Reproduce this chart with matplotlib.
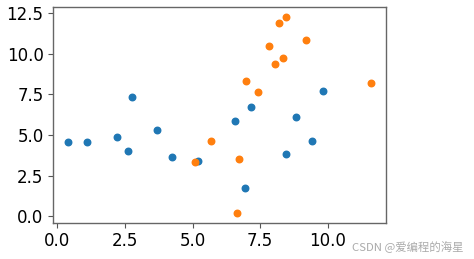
import matplotlib.pyplot as plt

# values
blue_x = [0.41, 1.11, 2.21, 2.62, 2.77, 3.68, 4.24, 5.20, 6.58, 6.95, 7.17, 8.47, 8.83, 9.42, 9.83]
blue_y = [4.57, 4.57, 4.87, 4.04, 7.31, 5.31, 3.67, 3.42, 5.86, 1.72, 6.72, 3.81, 6.10, 4.65, 7.68]

orange_x = [5.09, 5.67, 6.63, 6.73, 6.99, 7.43, 7.83, 8.05, 8.35, 8.20, 8.46, 9.20, 11.59]
orange_y = [3.34, 4.65, 0.20, 3.54, 8.30, 7.62, 10.49, 9.38, 9.75, 11.88, 12.25, 10.84, 8.17]

x_ticks = [0.0, 2.5, 5.0, 7.5, 10.0]
y_ticks = [0.0, 2.5, 5.0, 7.5, 10.0, 12.5]


def main():
    fig = plt.figure(figsize=(4.74, 2.59), dpi=100)
    ax = fig.add_axes([0.1125, 0.140, 0.7015, 0.834])

    ax.scatter(blue_x, blue_y, s=22, color='#1f77b4', zorder=3)
    ax.scatter(orange_x, orange_y, s=22, color='#ff7f0e', zorder=3)

    ax.set_xlim(-0.15, 12.15)
    ax.set_ylim(-0.41, 12.9)
    ax.set_xticks(x_ticks)
    ax.set_yticks(y_ticks)
    ax.set_xticklabels([f'{t:.1f}' for t in x_ticks])
    ax.set_yticklabels([f'{t:.1f}' for t in y_ticks])
    ax.tick_params(labelsize=12, color='#555555', length=3.5, width=0.8)

    for sp in ax.spines.values():
        sp.set_color('#666666')
        sp.set_linewidth(1.0)

    # CSDN watermark
    fig.text(0.977, 0.045, 'CSDN @爱编程的海星', ha='right', va='center',
             fontsize=8.2, color='#aaaaaa',
             family=['Noto Sans CJK SC', 'DejaVu Sans'])

    fig.savefig('out.png', dpi=100)


if __name__ == "__main__":
    main()
